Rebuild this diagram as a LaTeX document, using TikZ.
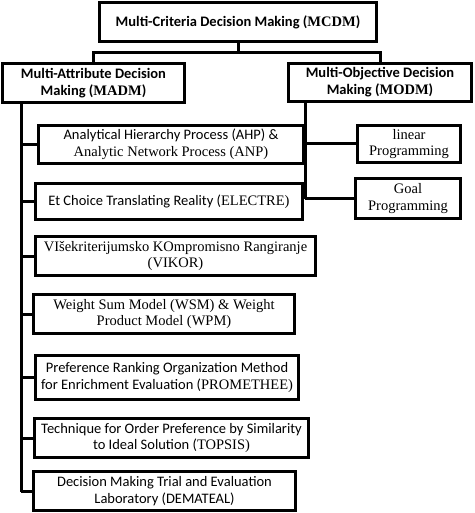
\documentclass[tikz,border=0pt]{standalone}
\usepackage{fontspec}
\setmainfont{Carlito}
\newfontfamily\tms{Liberation Serif}
\usepackage{tikz}
\tikzset{box/.style={draw, line width=3.5pt, fill=white, align=center, inner sep=1pt,
            font=\fontsize{14.5}{16.5}\selectfont},
        headbox/.style={box, font=\fontsize{14.5}{17}\selectfont\bfseries},
        link/.style={line width=3pt}
}

\begin{document}
\begin{tikzpicture}[x=1pt,y=-1pt]
\useasboundingbox (0,0) rectangle (474,513);
\coordinate (fork) at (238,53);
\coordinate (ltop) at (21,104);
\coordinate (lbot) at (21,492);
\coordinate (rtop) at (305,103);
\coordinate (rbot) at (305,198.5);
\node[headbox, minimum width=277pt, minimum height=39pt] (mcdm) at (238,22) {Multi-Criteria Decision Making ({\tms MCDM})};
\node[headbox, minimum width=182pt, minimum height=39pt] (madm) at (93.5,83) {Multi-Attribute Decision\\Making ({\tms MADM})};
\node[headbox, minimum width=183pt, minimum height=38pt] (modm) at (380,82.5) {Multi-Objective Decision\\Making ({\tms MODM})};
\draw[link] (mcdm.south) -- (fork);
\draw[link] (madm.north) |- (fork) -| (modm.north);
\draw[link] (ltop) -- (lbot);
\draw[link] (rtop) -- (rbot);
\node[box, minimum width=265pt, minimum height=38pt] (ahp) at (171,144.5) {Analytical Hierarchy Process (AHP) \&\\{\tms Analytic Network Process (ANP)}};
\node[box, minimum width=103pt, minimum height=37pt] (linear) at (409,144) {\tms linear\\\tms Programming};
\node[box, minimum width=105pt, minimum height=40pt] (goal) at (408,198.5) {\tms Goal\\\tms Programming};
\node[box, minimum width=267pt, minimum height=36pt] (electre) at (169,201.5) {Et Choice Translating Reality ({\tms ELECTRE)}};
\node[box, minimum width=280pt, minimum height=39pt] (vikor) at (175.5,256) {\tms VIšekriterijumsko KOmpromisno Rangiranje\\\tms (VIKOR)};
\node[box, minimum width=261pt, minimum height=39pt] (wsm) at (164,314) {\tms Weight Sum Model (WSM) \& Weight\\\tms Product Model (WPM)};
\node[box, minimum width=263pt, minimum height=44pt] (prom) at (167,377.5) {Preference Ranking Organization Method\\for Enrichment Evaluation ({\tms PROMETHEE)}};
\node[box, minimum width=274pt, minimum height=39pt] (topsis) at (171.5,438) {Technique for Order Preference by Similarity\\to Ideal Solution ({\tms TOPSIS)}};
\node[box, minimum width=262pt, minimum height=39pt] (demat) at (164.5,491) {Decision Making Trial and Evaluation\\Laboratory (DEMATEAL)};
\draw[link] (ahp.west) -- (ahp.west -| ltop);
\draw[link] (electre.west) -- (electre.west -| ltop);
\draw[link] (vikor.west) -- (vikor.west -| ltop);
\draw[link] (wsm.west) -- (wsm.west -| ltop);
\draw[link] (prom.west) -- (prom.west -| ltop);
\draw[link] (topsis.west) -- (topsis.west -| ltop);
\draw[link] (demat.west) -- (demat.west -| ltop);
\draw[link] (linear.west) -- (linear.west -| rtop);
\draw[link] (goal.west) -- (goal.west -| rtop);
\end{tikzpicture}
\end{document}
